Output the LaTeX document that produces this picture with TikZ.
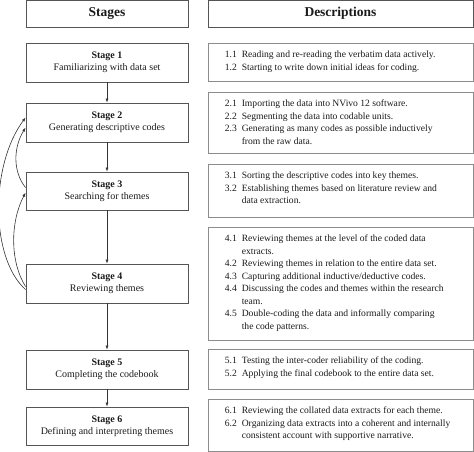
\documentclass[tikz,border=0pt]{standalone}
\usepackage{fontspec}
\setmainfont{Liberation Serif}
\usetikzlibrary{arrows.meta}
\definecolor{lboxc}{HTML}{555555}
\definecolor{rboxc}{HTML}{8C8C8C}
\definecolor{txtc}{HTML}{1A1A1A}
\definecolor{linec}{HTML}{333333}
\tikzset{
  stagebox/.style={draw=lboxc, line width=0.8pt, minimum width=162pt, align=center, inner sep=0pt, text=txtc, font=\fontsize{10}{12}\selectfont},
  headbox/.style={draw=lboxc, line width=0.9pt, inner sep=0pt, text=txtc, font=\fontsize{13.5}{15}\selectfont\bfseries},
  descbox/.style={draw=rboxc, line width=0.8pt, minimum width=265pt, inner sep=0pt},
  desctext/.style={anchor=north west, inner sep=0pt, text=txtc, font=\fontsize{9.6}{12.5}\selectfont},
  flow/.style={draw=linec, line width=0.6pt, -{Latex[length=4pt,width=3pt]}},
}
\newcommand{\desclist}[1]{\begin{tabular}{@{}p{17pt}@{}l@{}}#1\end{tabular}}
\begin{document}
\begin{tikzpicture}[x=1pt,y=-1pt]
\useasboundingbox (0,0) rectangle (474,452);
% headers
\node[headbox, minimum width=162pt, minimum height=26.5pt] (hs) at (107,13.75) {Stages};
\node[headbox, minimum width=265pt, minimum height=26.5pt] (hd) at (340.5,13.75) {Descriptions};
% stages
\node[stagebox, minimum height=39pt] (s1) at (107,62.5) {\textbf{Stage 1}\\Familiarizing with data set};
\node[stagebox, minimum height=39pt] (s2) at (107,122.5) {\textbf{Stage 2}\\Generating descriptive codes};
\node[stagebox, minimum height=38pt] (s3) at (107,191) {\textbf{Stage 3}\\Searching for themes};
\node[stagebox, minimum height=39pt] (s4) at (107,283.5) {\textbf{Stage 4}\\Reviewing themes};
\node[stagebox, minimum height=39pt] (s5) at (107,369.5) {\textbf{Stage 5}\\Completing the codebook};
\node[stagebox, minimum height=38pt] (s6) at (107,426) {\textbf{Stage 6}\\Defining and interpreting themes};
% description boxes
\node[descbox, minimum height=38pt] (d1) at (340.5,62) {};
\node[descbox, minimum height=61pt] (d2) at (340.5,122.5) {};
\node[descbox, minimum height=53pt] (d3) at (340.5,190.5) {};
\node[descbox, minimum height=113pt] (d4) at (340.5,283.5) {};
\node[descbox, minimum height=40pt] (d5) at (340.5,369) {};
\node[descbox, minimum height=52pt] (d6) at (340.5,425) {};
% description texts
\node[desctext] (t1) at ([xshift=17pt,yshift=-6pt]d1.north west) {\desclist{1.1 & Reading and re-reading the verbatim data actively.\\ 1.2 & Starting to write down initial ideas for coding.}};
\node[desctext] (t2) at ([xshift=17pt,yshift=-6pt]d2.north west) {\desclist{2.1 & Importing the data into NVivo 12 software.\\ 2.2 & Segmenting the data into codable units.\\ 2.3 & Generating as many codes as possible inductively\\ & from the raw data.}};
\node[desctext] (t3) at ([xshift=17pt,yshift=-6pt]d3.north west) {\desclist{3.1 & Sorting the descriptive codes into key themes.\\ 3.2 & Establishing themes based on literature review and\\ & data extraction.}};
\node[desctext] (t4) at ([xshift=17pt,yshift=-6pt]d4.north west) {\desclist{4.1 & Reviewing themes at the level of the coded data\\ & extracts.\\ 4.2 & Reviewing themes in relation to the entire data set.\\ 4.3 & Capturing additional inductive/deductive codes.\\ 4.4 & Discussing the codes and themes within the research\\ & team.\\ 4.5 & Double-coding the data and informally comparing\\ & the code patterns.}};
\node[desctext] (t5) at ([xshift=17pt,yshift=-6pt]d5.north west) {\desclist{5.1 & Testing the inter-coder reliability of the coding.\\ 5.2 & Applying the final codebook to the entire data set.}};
\node[desctext] (t6) at ([xshift=17pt,yshift=-6pt]d6.north west) {\desclist{6.1 & Reviewing the collated data extracts for each theme.\\ 6.2 & Organizing data extracts into a coherent and internally\\ & consistent account with supportive narrative.}};
% vertical arrows
\draw[flow] (s1) -- (s2);
\draw[flow] (s2) -- (s3);
\draw[flow] (s3) -- (s4);
\draw[flow] (s4) -- (s5);
\draw[flow] (s5) -- (s6);
% feedback curves
\draw[flow] ([yshift=-26pt]s4.north west) .. controls (-10,258) and (-10,165) .. ([yshift=-15pt]s2.north west);
\draw[flow] ([yshift=-23pt]s4.north west) .. controls (10,262) and (10,222) .. ([yshift=-21pt]s3.north west);
\draw[flow] ([yshift=-16pt]s3.north west) .. controls (13,172) and (13,148) .. ([yshift=-25pt]s2.north west);
\end{tikzpicture}
\end{document}
